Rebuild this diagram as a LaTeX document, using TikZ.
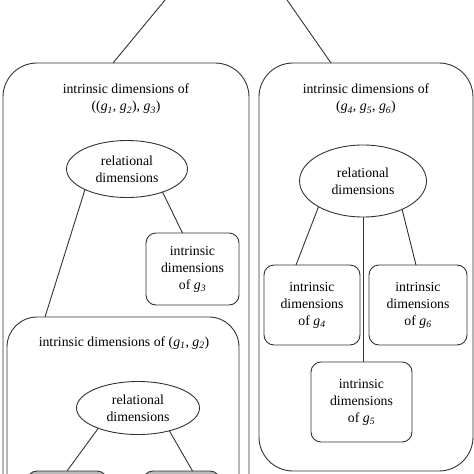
\documentclass[tikz,border=0pt]{standalone}
\usepackage{fontspec}
\setmainfont{Liberation Serif}
\usetikzlibrary{shapes.geometric}
\newcommand{\gidx}[1]{\textit{g\textsubscript{#1}}}

\begin{document}
\begin{tikzpicture}[x=1pt, y=-1pt, line width=0.9pt,
  font=\fontsize{13.8}{17}\selectfont,
  bigbox/.style={draw=black!80, rounded corners=34pt, inner sep=0pt, outer sep=0pt},
  smallbox/.style={draw=black!80, rounded corners=10pt, align=center, inner sep=0pt, outer sep=0pt},
  relnode/.style={draw=black!80, ellipse, align=center, inner sep=0pt, outer sep=0pt, minimum width=121pt},
  link/.style={draw=black!80}]
  \useasboundingbox (0,0) rectangle (474,474);
  \clip (0,0) rectangle (474,474);
  \coordinate (topl) at (167.5,-3);
  \coordinate (topr) at (285,-3);
  % containers
  \node[bigbox, minimum width=246pt, minimum height=600pt, anchor=north] (leftbox) at (126,63) {};
  \node[bigbox, minimum width=214pt, minimum height=408pt, anchor=north] (rightbox) at (366,63) {};
  \node[bigbox, rounded corners=30pt, minimum width=232pt, minimum height=300pt, anchor=north] (innerbox) at (123,317) {};
  \node[align=center] (lefttitle) at (126,99) {intrinsic dimensions of\\((\gidx{1}, \gidx{2}), \gidx{3})};
  \node[align=center] (righttitle) at (366,99) {intrinsic dimensions of\\(\gidx{4}, \gidx{5}, \gidx{6})};
  \node (innertitle) at (124,343) {intrinsic dimensions of (\gidx{1}, \gidx{2})};
  % relational dimensions
  \node[relnode, minimum height=57pt] (leftrel) at (127,169) {relational\\dimensions};
  \node[relnode, minimum width=127pt, minimum height=72pt] (rightrel) at (363,181) {relational\\dimensions};
  \node[relnode, minimum width=123pt, minimum height=53pt] (innerrel) at (138,408) {relational\\dimensions};
  % intrinsic dimensions of single g
  \node[smallbox, minimum width=93pt, minimum height=72pt] (g3box) at (192.5,269) {intrinsic\\dimensions\\of \gidx{3}};
  \node[smallbox, minimum width=96pt, minimum height=80pt] (g4box) at (312,305) {intrinsic\\dimensions\\of \gidx{4}};
  \node[smallbox, minimum width=98pt, minimum height=80pt] (g6box) at (418,305) {intrinsic\\dimensions\\of \gidx{6}};
  \node[smallbox, minimum width=101pt, minimum height=80pt] (g5box) at (361.5,402) {intrinsic\\dimensions\\of \gidx{5}};
  \node[smallbox, fill=gray!55, minimum width=80pt, minimum height=60pt, anchor=north] (g1box) at (67,471) {};
  \node[smallbox, fill=gray!55, minimum width=77pt, minimum height=60pt, anchor=north] (g2box) at (181.5,471) {};
  % links
  \draw[link] (topl) -- ([xshift=-13pt]leftbox.north);
  \draw[link] (topr) -- ([xshift=-35pt]rightbox.north);
  \draw[link] (leftrel.206) -- ([xshift=-78pt]innerbox.north);
  \draw[link] (leftrel.327) -- ([xshift=-10pt]g3box.north);
  \draw[link] (rightrel.210) -- ([xshift=-16pt]g4box.north);
  \draw[link] (rightrel.south) -- (rightrel.south |- g5box.north);
  \draw[link] (rightrel.324) -- ([xshift=-2pt]g6box.north);
  \draw[link] (innerrel.207) -- (g1box.north);
  \draw[link] (innerrel.324) -- ([xshift=11pt]g2box.north);
\end{tikzpicture}
\end{document}
